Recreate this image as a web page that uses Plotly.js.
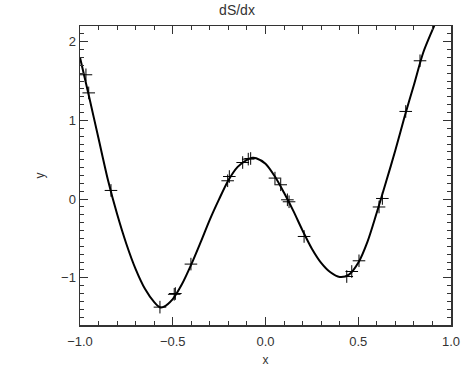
<!DOCTYPE html>
<html>
<head>
<meta charset="utf-8">
<script src="https://cdn.plot.ly/plotly-3.0.1.min.js"></script>
<style>html,body{margin:0;padding:0;background:#fff;}#chart{width:474px;height:379px;}</style>
</head>
<body>
<div id="chart"></div>
<script>
// Smooth curve samples
const curveX = [-1.0, -0.95, -0.9, -0.85, -0.8, -0.75, -0.7, -0.65, -0.6, -0.57, -0.55, -0.5, -0.45, -0.4, -0.35, -0.3, -0.25, -0.2, -0.15, -0.1, -0.07, -0.05, 0.0, 0.05, 0.1, 0.15, 0.2, 0.25, 0.3, 0.35, 0.4, 0.45, 0.5, 0.55, 0.6, 0.65, 0.7, 0.75, 0.8, 0.85, 0.9, 0.92];
const curveY = [1.80, 1.29, 0.77, 0.25, -0.19, -0.57, -0.89, -1.14, -1.31, -1.375, -1.37, -1.27, -1.08, -0.83, -0.55, -0.26, 0.0, 0.24, 0.41, 0.50, 0.525, 0.52, 0.45, 0.29, 0.08, -0.15, -0.40, -0.63, -0.81, -0.93, -0.99, -0.96, -0.81, -0.54, -0.17, 0.22, 0.62, 1.05, 1.45, 1.86, 2.15, 2.26];
// Sample points drawn with + markers
const ptsX = [-0.968, -0.953, -0.833, -0.569, -0.492, -0.486, -0.402, -0.204, -0.195, -0.123, -0.093, -0.080, 0.051, 0.082, 0.118, 0.127, 0.208, 0.438, 0.465, 0.504, 0.612, 0.630, 0.756, 0.833];
const ptsY = [1.58, 1.35, 0.11, -1.373, -1.21, -1.20, -0.826, 0.233, 0.287, 0.465, 0.508, 0.516, 0.267, 0.182, -0.009, -0.034, -0.475, -0.984, -0.92, -0.784, -0.10, 0.008, 1.114, 1.758];

const titleText = 'dS/dx';
const xTitle = 'x';
const yTitle = 'y';

const fontFam = 'Liberation Sans, Arial, sans-serif';
const txtCol = '#333';

const traces = [
  {x: curveX, y: curveY, mode: 'lines', type: 'scatter',
   line: {color: '#000', width: 2, shape: 'spline', smoothing: 0.8}, hoverinfo: 'none'},
  {x: ptsX, y: ptsY, mode: 'markers', type: 'scatter',
   marker: {symbol: 'cross-thin', size: 9, line: {color: '#000', width: 1}, color: '#000'}, hoverinfo: 'none'}
];

const axisCommon = {
  showline: true, linecolor: '#333', linewidth: 1.5, mirror: 'allticks',
  ticks: 'inside', ticklen: 8, tickwidth: 1.2, tickcolor: '#333',
  showgrid: false, zeroline: false,
  tickfont: {family: fontFam, size: 13, color: txtCol}
};

const layout = {
  width: 474, height: 379,
  margin: {l: 80, r: 23, t: 26, b: 54},
  paper_bgcolor: '#fff', plot_bgcolor: '#fff',
  showlegend: false,
  title: {text: titleText, x: 0.5, xanchor: 'center', y: 0.985, yanchor: 'top',
          font: {family: fontFam, size: 14, color: txtCol}},
  xaxis: Object.assign({}, axisCommon, {
    range: [-1, 1], dtick: 0.5, tick0: -1, tickformat: '.1f', ticklabelstandoff: 4,
    minor: {dtick: 0.1, tick0: -1, ticks: 'inside', ticklen: 4, tickcolor: '#333', tickwidth: 1},
    title: {text: xTitle, font: {family: fontFam, size: 12, color: txtCol}, standoff: 7}
  }),
  yaxis: Object.assign({}, axisCommon, {
    range: [-1.6, 2.2], dtick: 1, tick0: 0,
    minor: {dtick: 0.1, tick0: 0, ticks: 'inside', ticklen: 4, tickcolor: '#333', tickwidth: 1},
    title: {text: yTitle, font: {family: fontFam, size: 12, color: txtCol}, standoff: 14}
  })
};

Plotly.newPlot('chart', traces, layout, {staticPlot: true, displayModeBar: false});
</script>
</body>
</html>
